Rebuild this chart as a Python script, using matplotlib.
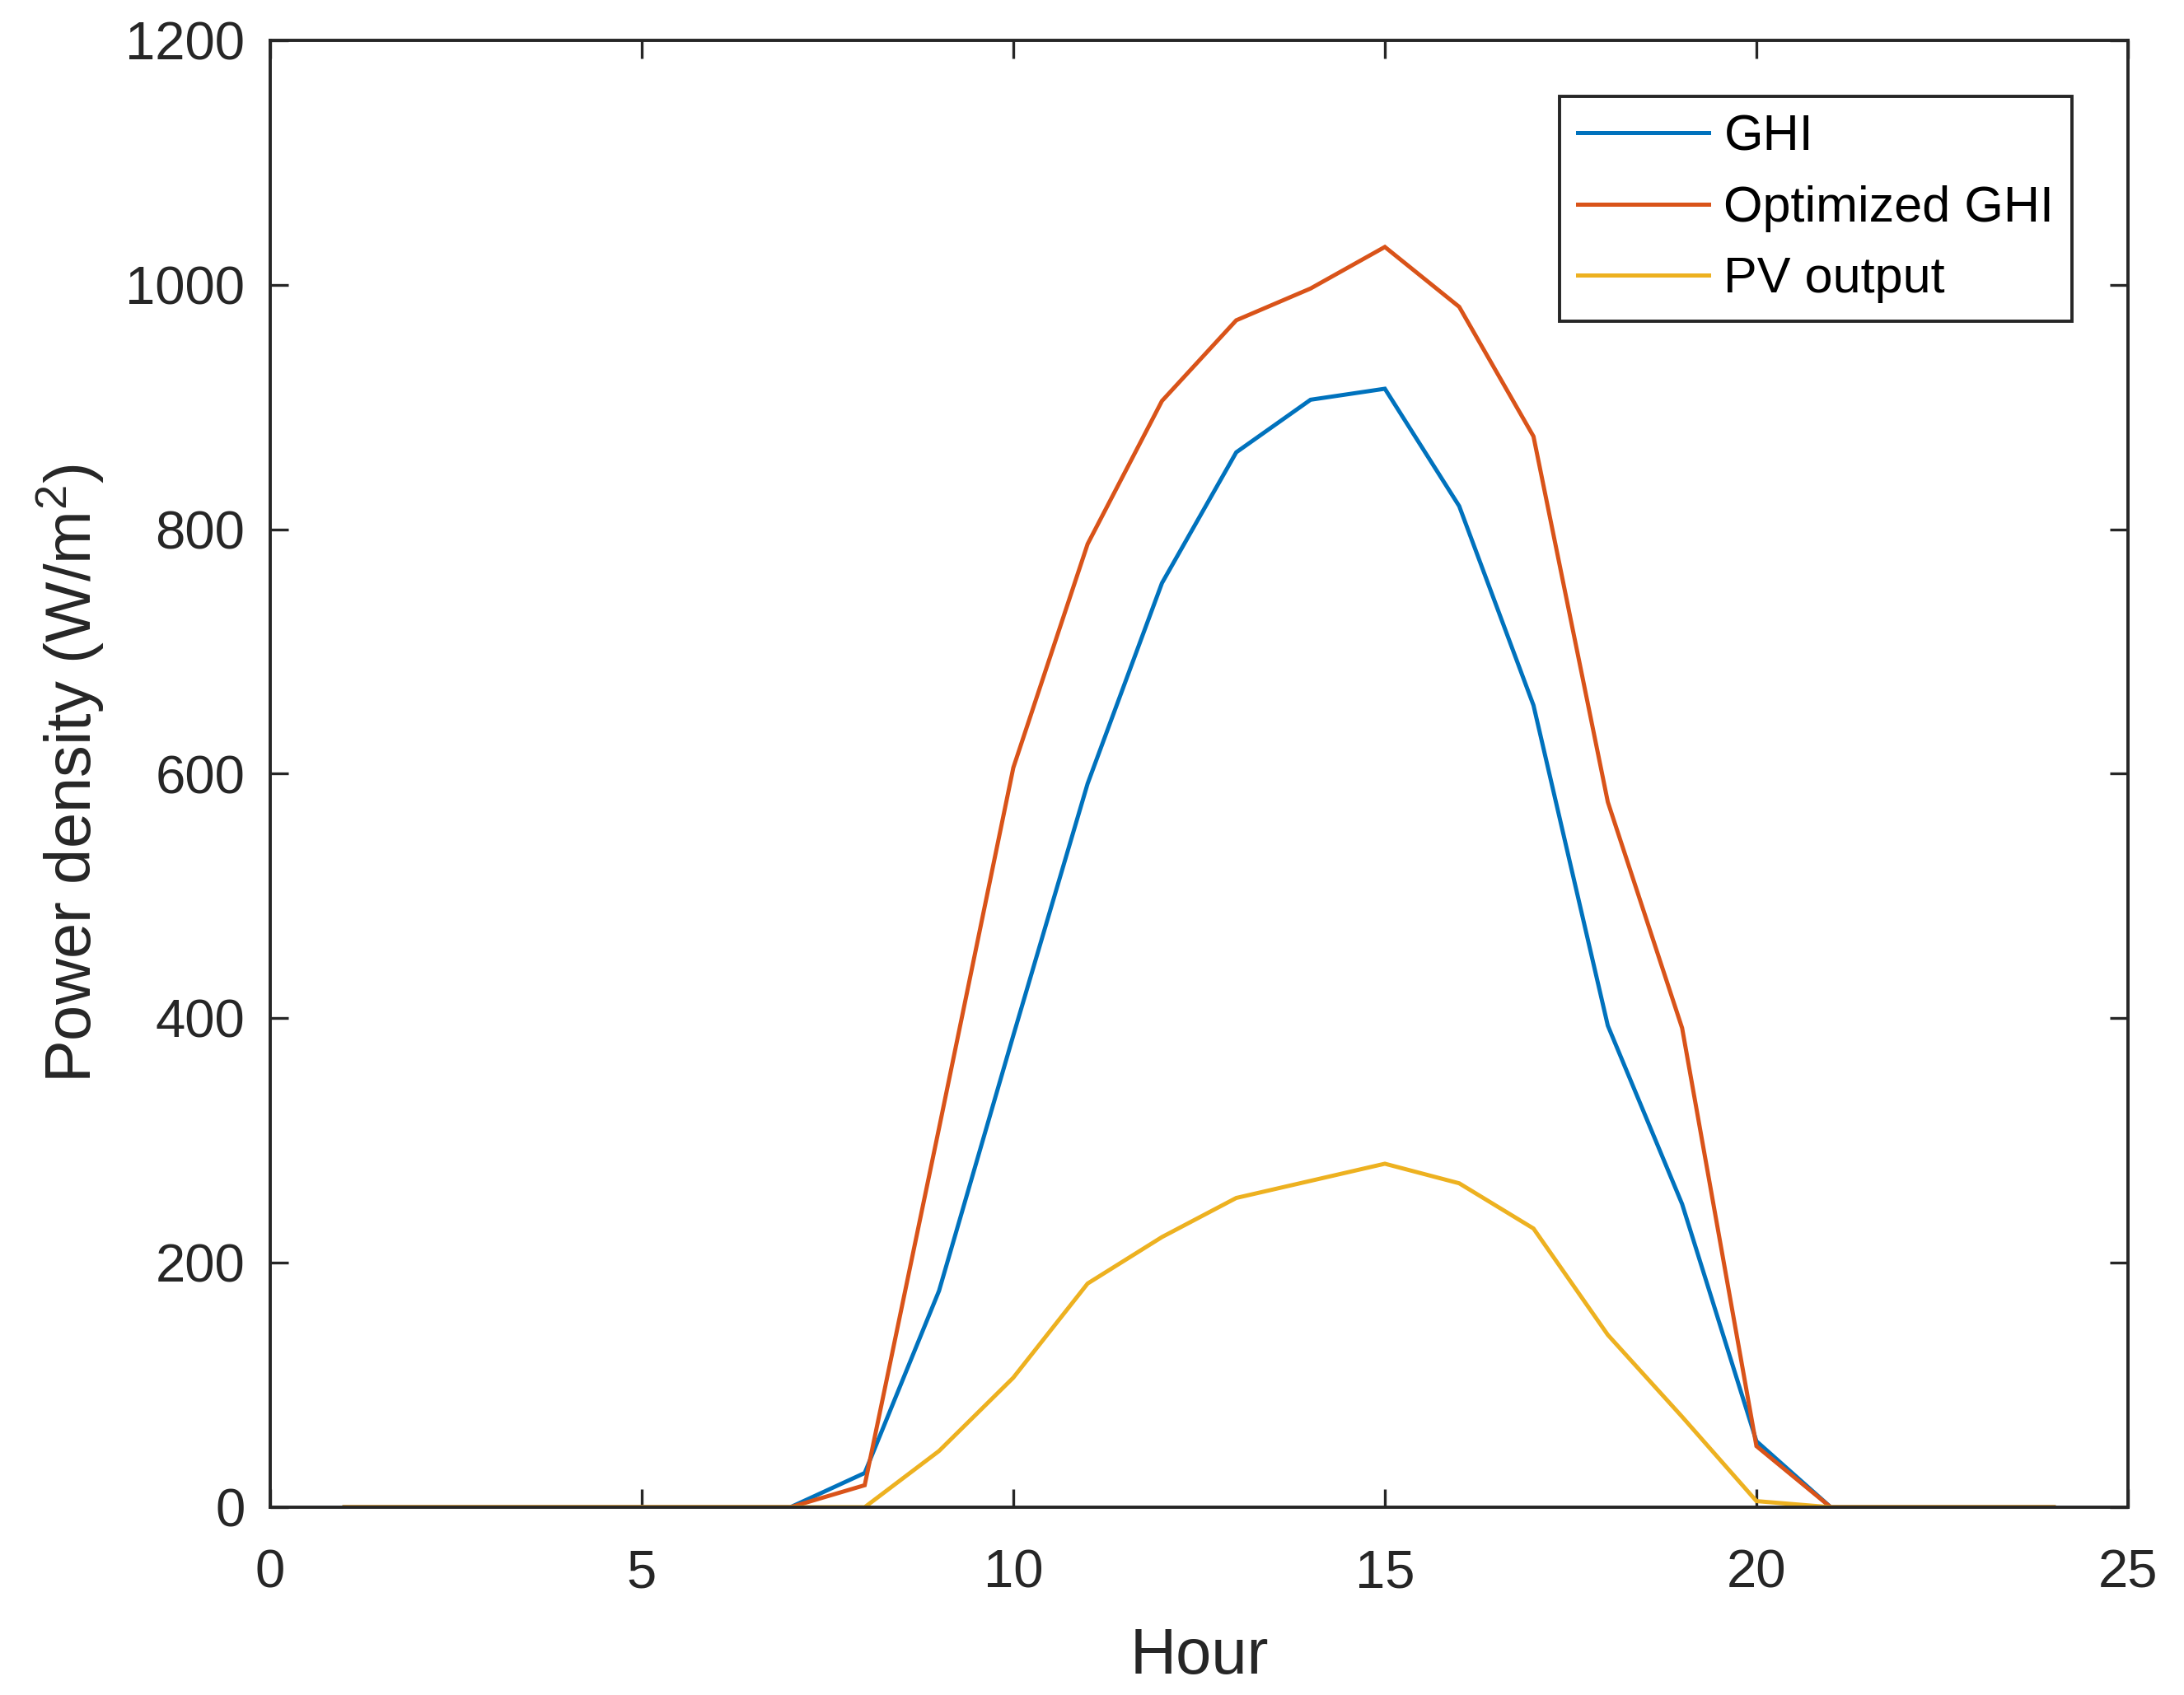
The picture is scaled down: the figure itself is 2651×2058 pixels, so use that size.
import numpy as np
import matplotlib
matplotlib.use("Agg")
import matplotlib.pyplot as plt

# hourly values
hours = list(range(1, 25))
ghi = [0, 0, 0, 0, 0, 0, 0, 28, 177, 386, 592, 756, 863, 906, 915, 819, 656, 394, 248, 54, 0, 0, 0, 0]
ghi_opt = [0, 0, 0, 0, 0, 0, 0, 18, 310, 605, 788, 905, 971, 997, 1031, 982, 876, 577, 392, 50, 0, 0, 0, 0]
pv_out = [0, 0, 0, 0, 0, 0, 0, 0, 46, 106, 183, 221, 253, 267, 281, 265, 228, 141, 74, 5, 0, 0, 0, 0]

labels = ["GHI", "Optimized GHI", "PV output"]
colors = ["#0072BD", "#D95319", "#EDB120"]

txt = "#262626"
plt.rcParams['font.family'] = ['Liberation Sans', 'DejaVu Sans']
plt.rcParams['mathtext.fontset'] = 'custom'
plt.rcParams['mathtext.rm'] = 'Liberation Sans'
plt.rcParams['mathtext.it'] = 'Liberation Sans'

fig = plt.figure(figsize=(26.51, 20.58), dpi=100)
ax = fig.add_axes([328 / 2651, 1 - 1830 / 2058, (2583 - 328) / 2651, (1830 - 49) / 2058])

for series, lab, col in zip([ghi, ghi_opt, pv_out], labels, colors):
    ax.plot(hours, series, color=col, lw=3.6, label=lab, solid_joinstyle='miter')

ax.set_xlim(0, 25)
ax.set_ylim(0, 1200)
ax.set_xticks(np.arange(0, 26, 5))
ax.set_yticks(np.arange(0, 1201, 200))

ax.tick_params(direction='in', length=16, width=2.4, colors=txt, labelsize=47,
               top=True, right=True)
ax.tick_params(axis='x', pad=36)
ax.tick_params(axis='y', pad=22)
for s in ax.spines.values():
    s.set_linewidth(2.8)
    s.set_color(txt)

ax.set_xlabel("Hour", fontsize=56, color=txt, labelpad=25)
ax.set_ylabel("Power density (W/m$^2$)", fontsize=56, color=txt, labelpad=17)

leg = ax.legend(loc='upper right', bbox_to_anchor=(0.970, 0.962), borderaxespad=0,
                fontsize=44, fancybox=False, framealpha=1, edgecolor=txt,
                handlelength=2.6, handletextpad=0.3, labelspacing=0.48, borderpad=0.36)
leg.get_frame().set_linewidth(2.8)
for t in leg.get_texts():
    t.set_color('black')

fig.savefig("out.png", dpi=100)
